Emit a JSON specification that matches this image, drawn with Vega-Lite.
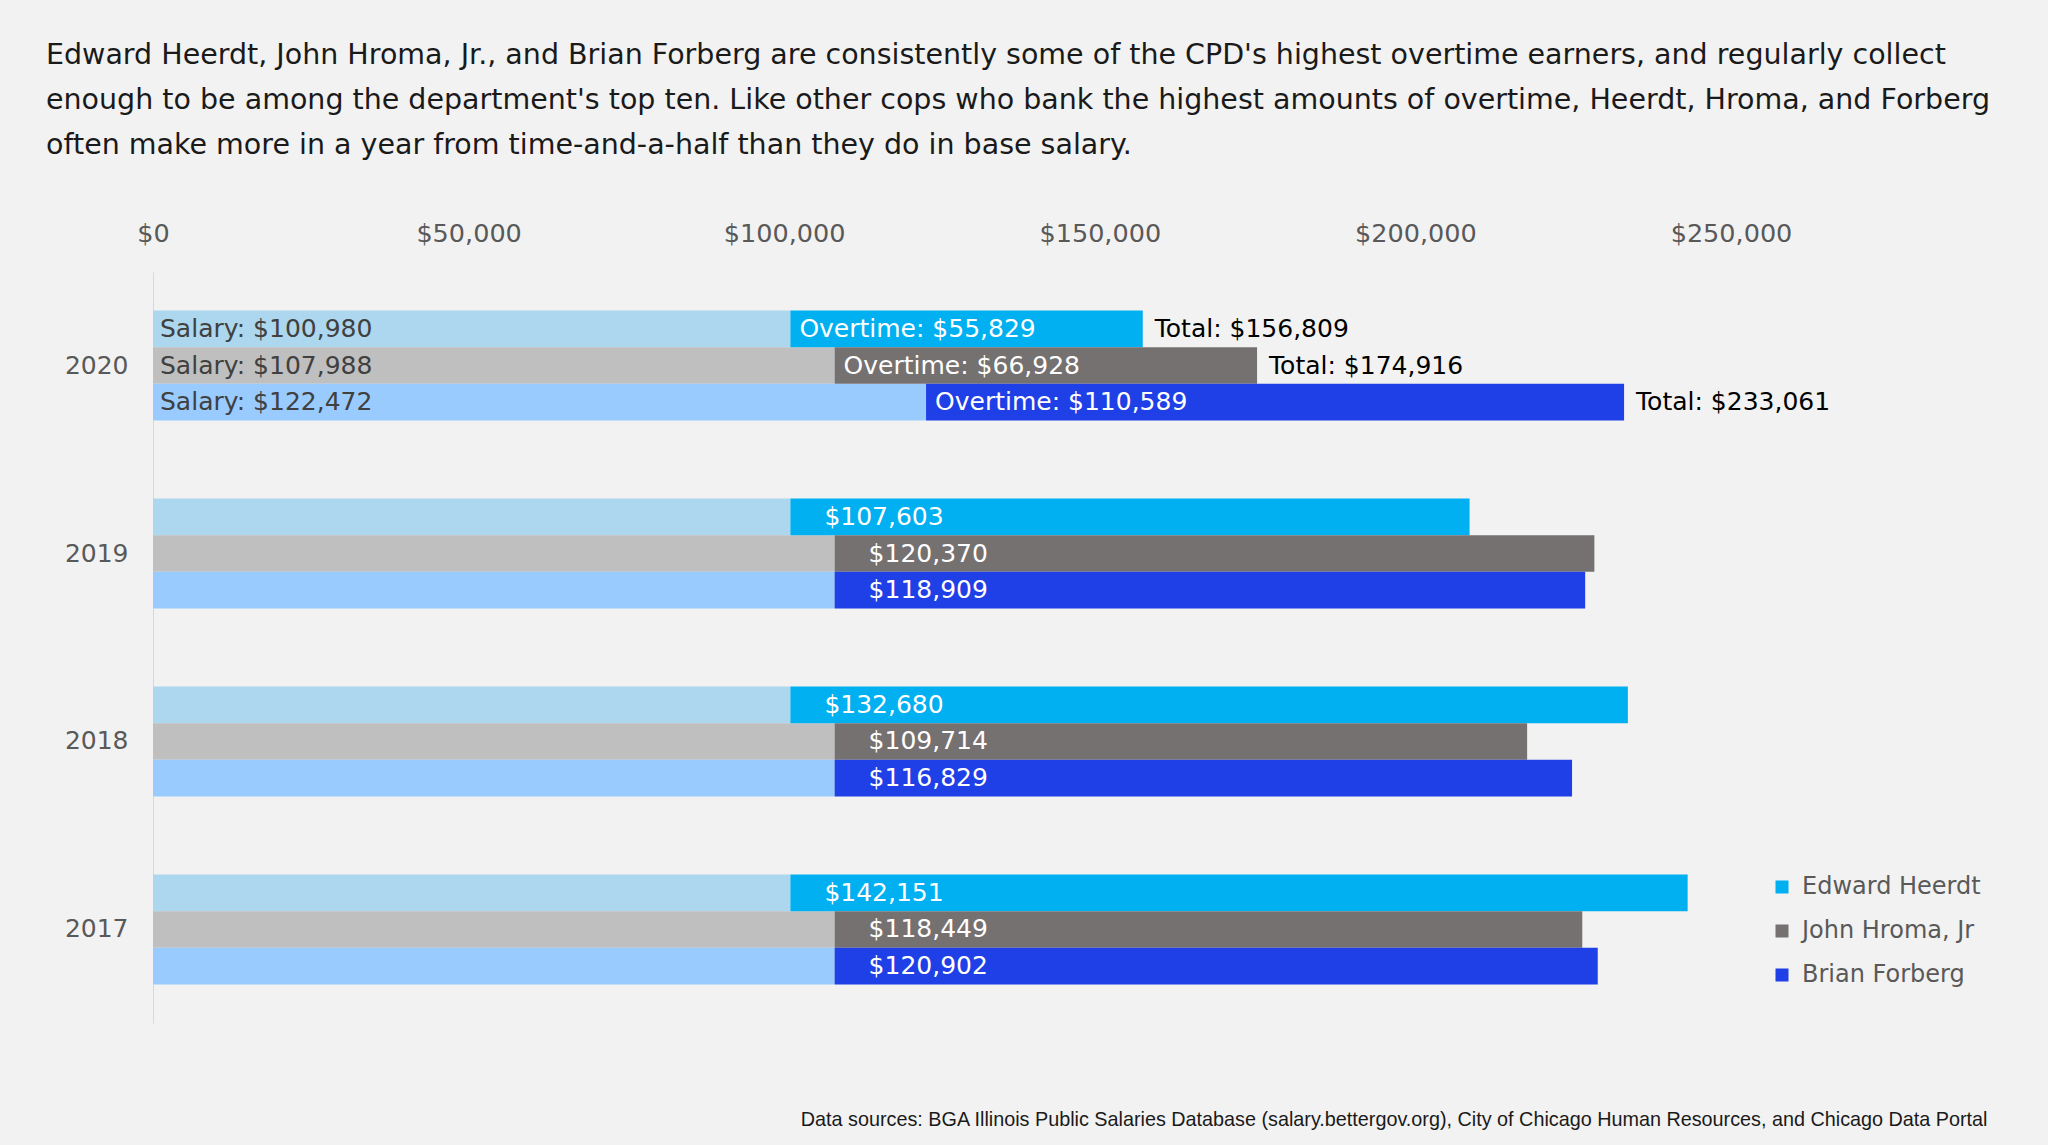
{
  "$schema": "https://vega.github.io/schema/vega-lite/v6.json",
  "width": 1578,
  "height": 751,
  "autosize": {"type": "none"},
  "padding": {"left": 153, "top": 272, "right": 317, "bottom": 122},
  "background": "#F2F2F2",
  "config": {"view": {"stroke": null}, "font": "DejaVu Sans"},
  "title": {
    "text": [
      "Edward Heerdt, John Hroma, Jr., and Brian Forberg are consistently some of the CPD's highest overtime earners, and regularly collect",
      "enough to be among the department's top ten. Like other cops who bank the highest amounts of overtime, Heerdt, Hroma, and Forberg",
      "often make more in a year from time-and-a-half than they do in base salary."
    ],
    "anchor": "start",
    "frame": "group",
    "dx": -107,
    "offset": 62,
    "font": "DejaVu Sans",
    "fontSize": 28.5,
    "fontWeight": "normal",
    "color": "#1a1a1a",
    "lineHeight": 45
  },
  "data": {
    "values": [
      {"year": 2020, "person": "Edward Heerdt", "salary": 100980, "overtime": 55829, "total": 156809, "salaryLabel": "Salary: $100,980", "otLabel": "Overtime: $55,829", "totalLabel": "Total: $156,809"},
      {"year": 2020, "person": "John Hroma, Jr", "salary": 107988, "overtime": 66928, "total": 174916, "salaryLabel": "Salary: $107,988", "otLabel": "Overtime: $66,928", "totalLabel": "Total: $174,916"},
      {"year": 2020, "person": "Brian Forberg", "salary": 122472, "overtime": 110589, "total": 233061, "salaryLabel": "Salary: $122,472", "otLabel": "Overtime: $110,589", "totalLabel": "Total: $233,061"},
      {"year": 2019, "person": "Edward Heerdt", "salary": 100980, "overtime": 107603, "total": 208583, "salaryLabel": "", "otLabel": "$107,603", "totalLabel": ""},
      {"year": 2019, "person": "John Hroma, Jr", "salary": 107988, "overtime": 120370, "total": 228358, "salaryLabel": "", "otLabel": "$120,370", "totalLabel": ""},
      {"year": 2019, "person": "Brian Forberg", "salary": 107988, "overtime": 118909, "total": 226897, "salaryLabel": "", "otLabel": "$118,909", "totalLabel": ""},
      {"year": 2018, "person": "Edward Heerdt", "salary": 100980, "overtime": 132680, "total": 233660, "salaryLabel": "", "otLabel": "$132,680", "totalLabel": ""},
      {"year": 2018, "person": "John Hroma, Jr", "salary": 107988, "overtime": 109714, "total": 217702, "salaryLabel": "", "otLabel": "$109,714", "totalLabel": ""},
      {"year": 2018, "person": "Brian Forberg", "salary": 107988, "overtime": 116829, "total": 224817, "salaryLabel": "", "otLabel": "$116,829", "totalLabel": ""},
      {"year": 2017, "person": "Edward Heerdt", "salary": 100980, "overtime": 142151, "total": 243131, "salaryLabel": "", "otLabel": "$142,151", "totalLabel": ""},
      {"year": 2017, "person": "John Hroma, Jr", "salary": 107988, "overtime": 118449, "total": 226437, "salaryLabel": "", "otLabel": "$118,449", "totalLabel": ""},
      {"year": 2017, "person": "Brian Forberg", "salary": 107988, "overtime": 120902, "total": 228890, "salaryLabel": "", "otLabel": "$120,902", "totalLabel": ""}
    ]
  },
  "encoding": {
    "y": {
      "field": "year",
      "type": "ordinal",
      "sort": "descending",
      "scale": {"paddingInner": 0.415, "paddingOuter": 0.205},
      "axis": {
        "title": null,
        "ticks": false,
        "domainColor": "#D9D9D9",
        "domainWidth": 1,
        "labelFontSize": 25,
        "labelColor": "#595959",
        "labelPadding": 25
      }
    },
    "yOffset": {
      "field": "person",
      "type": "nominal",
      "sort": ["Edward Heerdt", "John Hroma, Jr", "Brian Forberg"],
      "scale": {"paddingInner": 0, "paddingOuter": 0}
    }
  },
  "layer": [
    {
      "mark": {"type": "bar"},
      "encoding": {
        "x": {
          "field": "salary",
          "type": "quantitative",
          "scale": {"domain": [0, 250000], "nice": false},
          "axis": {
            "orient": "top",
            "values": [0, 50000, 100000, 150000, 200000, 250000],
            "format": "$,.0f",
            "grid": false,
            "ticks": false,
            "domain": false,
            "title": null,
            "labelFlush": false,
            "labelFontSize": 25.5,
            "labelColor": "#595959",
            "labelPadding": 26
          }
        },
        "x2": {"datum": 0},
        "color": {
          "field": "person",
          "type": "nominal",
          "scale": {
            "domain": ["Edward Heerdt", "John Hroma, Jr", "Brian Forberg"],
            "range": ["#ADD7EE", "#BFBFBF", "#99CBFF"]
          },
          "legend": null
        }
      }
    },
    {
      "mark": {"type": "bar"},
      "encoding": {
        "x": {
          "field": "salary",
          "type": "quantitative",
          "axis": {
            "orient": "bottom",
            "labels": false,
            "ticks": false,
            "domain": false,
            "grid": false,
            "title": "Data sources: BGA Illinois Public Salaries Database (salary.bettergov.org), City of Chicago Human Resources, and Chicago Data Portal",
            "titleFont": "Liberation Sans",
            "titleFontSize": 19.8,
            "titleFontWeight": "normal",
            "titleColor": "#1a1a1a",
            "titleAlign": "right",
            "titleBaseline": "alphabetic",
            "titleLimit": 2000,
            "titleX": 1834,
            "titleY": 102
          }
        },
        "x2": {"field": "total"},
        "color": {
          "field": "person",
          "type": "nominal",
          "scale": {
            "domain": ["Edward Heerdt", "John Hroma, Jr", "Brian Forberg"],
            "range": ["#00B0F0", "#767171", "#1F40E6"]
          },
          "legend": {
            "title": null,
            "orient": "none",
            "legendX": 1617,
            "legendY": 603,
            "symbolType": "square",
            "symbolSize": 169,
            "symbolStrokeWidth": 0,
            "labelFontSize": 24,
            "labelColor": "#595959",
            "labelLimit": 400,
            "labelOffset": 8,
            "rowPadding": 20
          }
        }
      }
    },
    {
      "transform": [{"filter": "datum.year == 2020"}],
      "mark": {"type": "text", "align": "left", "baseline": "middle", "dx": 7, "fontSize": 25, "color": "#404040"},
      "encoding": {
        "x": {"datum": 0, "axis": null},
        "text": {"field": "salaryLabel"}
      }
    },
    {
      "transform": [{"filter": "datum.year == 2020"}],
      "mark": {"type": "text", "align": "left", "baseline": "middle", "dx": 9, "fontSize": 25, "color": "#FFFFFF"},
      "encoding": {
        "x": {"field": "salary", "type": "quantitative", "axis": null},
        "text": {"field": "otLabel"}
      }
    },
    {
      "transform": [{"filter": "datum.year != 2020"}],
      "mark": {"type": "text", "align": "left", "baseline": "middle", "dx": 34, "fontSize": 25, "color": "#FFFFFF"},
      "encoding": {
        "x": {"field": "salary", "type": "quantitative", "axis": null},
        "text": {"field": "otLabel"}
      }
    },
    {
      "transform": [{"filter": "datum.year == 2020"}],
      "mark": {"type": "text", "align": "left", "baseline": "middle", "dx": 12, "fontSize": 25, "color": "#000000"},
      "encoding": {
        "x": {"field": "total", "type": "quantitative", "axis": null},
        "text": {"field": "totalLabel"}
      }
    }
  ],
  "resolve": {"scale": {"color": "independent"}, "axis": {"x": "independent"}}
}
